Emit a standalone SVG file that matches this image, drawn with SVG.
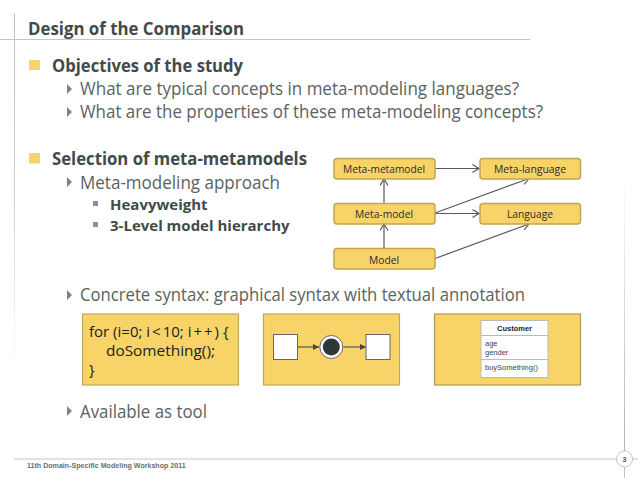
<svg xmlns="http://www.w3.org/2000/svg" width="638" height="478" viewBox="0 0 638 478">
<style>
text{font-family:"Open Sans","Noto Sans","Liberation Sans",sans-serif}
.rule{stroke:#c4c6c6;stroke-width:1;fill:none}
.h1{font-size:17.5px;font-weight:700;fill:#414b4b}
.h2{font-size:17.5px;fill:#5a6262}
.h3{font-size:15px;font-weight:700;fill:#414b4b}
.b1{fill:#f8d368}
.tri{fill:#7d8383}
.sq{fill:#8d9191}
.node rect{fill:#f8d368;stroke:#c0a552;stroke-width:1.5}
.node text{font-size:11.5px;fill:#2b2b2b;text-anchor:middle}
.conn{stroke:#555b5b;stroke-width:1.2;fill:none;marker-end:url(#arr)}
.panel{fill:#f8d368;stroke:#c3a957;stroke-width:1.2}
.ar{font-family:"Liberation Sans",Arial,sans-serif}
.code{font-size:15px;fill:#222}
.edge{stroke:#555;fill:none;stroke-width:1.2;marker-end:url(#fil)}
.cell{font-size:7.500px;fill:#444}
</style>
<defs>
<marker id="arr" markerWidth="10" markerHeight="10" refX="8" refY="4.500" orient="auto" markerUnits="userSpaceOnUse"><path d="M1.500 0.500L8 4.500L1.500 8.500" fill="none" stroke="#555b5b" stroke-width="1.200"/></marker>
<marker id="fil" markerWidth="7" markerHeight="6" refX="6" refY="3" orient="auto" markerUnits="userSpaceOnUse"><path d="M0 0L6 3L0 6Z" fill="#444"/></marker>
<linearGradient id="fadeL" gradientUnits="userSpaceOnUse" x1="0" y1="13" x2="0" y2="375"><stop offset="0" stop-color="#bfc1c1"/><stop offset="0.5" stop-color="#cfd1d1"/><stop offset="1" stop-color="#fff"/></linearGradient>
<linearGradient id="fadeR" gradientUnits="userSpaceOnUse" x1="0" y1="170" x2="0" y2="451"><stop offset="0" stop-color="#fff"/><stop offset="0.7" stop-color="#c8caca"/><stop offset="1" stop-color="#b4b6b6"/></linearGradient>
</defs>
<rect width="638" height="478" fill="#fff"/>
<g id="frame">
<path d="M14.500 13V375" fill="none" stroke="url(#fadeL)"/>
<path d="M624.500 170V451" fill="none" stroke="url(#fadeR)"/>
<path class="rule" d="M0 39.500H530M14 459H616M632 459H638M624.500 467V478"/>
<circle cx="624.500" cy="459" r="8" fill="#fff" stroke="#c4c6c6"/>
<text x="624.500" y="461.500" text-anchor="middle" class="ar" style="font-size:7px;font-weight:700" fill="#555">3</text>
<text x="27" y="468" class="ar" style="font-size:7.100px;font-weight:700" fill="#6a6f6f">11th Domain-Specific Modeling Workshop 2011</text>
</g>
<text x="28" y="35" style="font-size:17px;font-weight:700" fill="#414b4b" textLength="216" lengthAdjust="spacingAndGlyphs">Design of the Comparison</text>
<rect class="b1" x="29" y="60" width="11" height="10"/>
<text class="h1" x="52" y="72" textLength="191" lengthAdjust="spacingAndGlyphs">Objectives of the study</text>
<path class="tri" d="M67 84l5 5l-5 5ZM67 107l5 5l-5 5ZM67 177l5 5l-5 5ZM67 290l5 5l-5 5ZM67 406l5 5l-5 5Z"/>
<text class="h2" x="80" y="95" textLength="439" lengthAdjust="spacingAndGlyphs">What are typical concepts in meta-modeling languages?</text>
<text class="h2" x="80" y="118" textLength="463" lengthAdjust="spacingAndGlyphs">What are the properties of these meta-modeling concepts?</text>
<rect class="b1" x="29" y="153" width="11" height="10.500"/>
<text class="h1" x="52" y="165" textLength="255" lengthAdjust="spacingAndGlyphs">Selection of meta-metamodels</text>
<text class="h2" x="80" y="189" textLength="200" lengthAdjust="spacingAndGlyphs">Meta-modeling approach</text>
<rect class="sq" x="93" y="201" width="5" height="5"/>
<text class="h3" x="110" y="210">Heavyweight</text>
<rect class="sq" x="93" y="222" width="5" height="5"/>
<text class="h3" x="110" y="231">3-Level model hierarchy</text>
<text class="h2" x="80" y="301" textLength="445" lengthAdjust="spacingAndGlyphs">Concrete syntax: graphical syntax with textual annotation</text>
<text class="h2" x="80" y="418" textLength="127" lengthAdjust="spacingAndGlyphs">Available as tool</text>
<g id="connectors">
<path class="conn" d="M435 168.500H479"/>
<path class="conn" d="M384 203.500V179"/>
<path class="conn" d="M435 213L529 178.500"/>
<path class="conn" d="M435 213.500H479"/>
<path class="conn" d="M384 248V224"/>
<path class="conn" d="M435 258.500L529 224"/>
</g>
<g id="n-metametamodel" class="node"><rect x="334" y="158.500" width="101" height="20.500" rx="3"/><text x="384" y="173" textLength="82" lengthAdjust="spacingAndGlyphs">Meta-metamodel</text></g>
<g id="n-metalanguage" class="node"><rect x="480" y="158.500" width="100.500" height="20.500" rx="3"/><text x="530" y="173" textLength="72" lengthAdjust="spacingAndGlyphs">Meta-language</text></g>
<g id="n-metamodel" class="node"><rect x="334" y="203.500" width="101" height="20.500" rx="3"/><text x="384" y="218" textLength="58" lengthAdjust="spacingAndGlyphs">Meta-model</text></g>
<g id="n-language" class="node"><rect x="480" y="203.500" width="100.500" height="20.500" rx="3"/><text x="530" y="218" textLength="46" lengthAdjust="spacingAndGlyphs">Language</text></g>
<g id="n-model" class="node"><rect x="334" y="248.500" width="101" height="20.500" rx="3"/><text x="384" y="264" textLength="30" lengthAdjust="spacingAndGlyphs">Model</text></g>
<g id="panel-code">
<rect class="panel" x="82.500" y="314" width="156" height="71"/>
<text class="code" x="89" y="337">for (i=0; i<tspan dx="2">&lt;</tspan><tspan dx="2">10; i</tspan><tspan dx="2">+</tspan><tspan dx="2">+</tspan><tspan dx="2">)</tspan> {</text>
<text class="code" x="106" y="356" textLength="109" lengthAdjust="spacingAndGlyphs">doSomething();</text>
<text class="code" x="89" y="375">}</text>
</g>
<g id="panel-graph">
<rect class="panel" x="263.500" y="314" width="136" height="71"/>
<rect x="273.500" y="334.500" width="24" height="25" fill="#fff" stroke="#666"/>
<path class="edge" d="M297.500 347H319"/>
<path class="edge" d="M343.500 347H366"/>
<circle cx="331.300" cy="347" r="11.500" fill="#fff" stroke="#666"/>
<circle cx="331.300" cy="347" r="8.500" fill="#2f3736"/>
<rect x="366" y="334.500" width="24" height="25" fill="#fff" stroke="#666"/>
</g>
<g id="panel-class">
<rect class="panel" x="434.500" y="314" width="146" height="71" style="stroke:#b49a4c"/>
<rect x="481" y="320.500" width="67" height="57" fill="#fff" stroke="#bbb"/>
<path d="M481 335.500H548M481 359.500H548" stroke="#bbb" fill="none"/>
<text x="514.500" y="331" text-anchor="middle" class="ar" style="font-size:7.500px;font-weight:700" fill="#222">Customer</text>
<text x="485" y="346" class="ar cell">age</text>
<text x="485" y="355" class="ar cell">gender</text>
<text x="485" y="370" class="ar cell">buySomething()</text>
</g>
</svg>
